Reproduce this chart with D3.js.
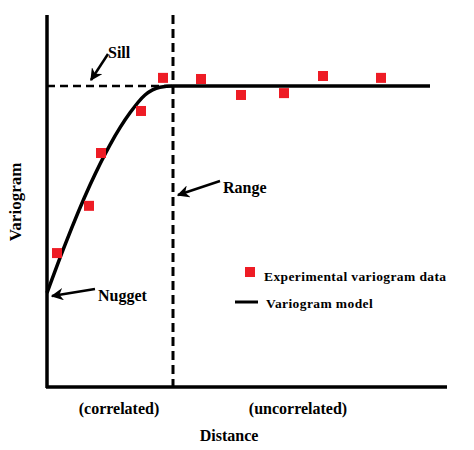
<!DOCTYPE html><html><head><meta charset="utf-8"><script src="https://cdn.jsdelivr.net/npm/d3@7"></script>
<style>body{margin:0;background:#fff}text{font-family:"Liberation Serif","Times New Roman",serif;font-weight:bold}</style></head><body>
<svg id="c" width="474" height="450"></svg>
<script>
const expX=[2.5,10.5,13.5,23.5,29,38.5,48.5,59.25,69,83.5];
const expY=[36,48.7,62.9,74.2,83.1,82.8,78.5,79.0,83.6,83.1];
const modelX=[0,4.5,10.75,15.75,20.75,24.5,28.25,31.5,95.75];
const modelY=[25.3,38.2,54.3,65.1,73.7,78.5,80.6,80.9,80.9];
const sill=80.9, nugget=25.3, range=31.5;
const svg=d3.select("#c");
const x=d3.scaleLinear().domain([0,100]).range([47,447]);
const y=d3.scaleLinear().domain([0,100]).range([387,15]);
const defs=svg.append("defs");
defs.append("marker").attr("id","ah").attr("viewBox","0 0 10 10").attr("refX",9).attr("refY",5)
 .attr("markerWidth",5).attr("markerHeight",5).attr("orient","auto")
 .append("path").attr("d","M0,0L10,5L0,10L3,5Z").attr("fill","#000");
svg.append("line").attr("x1",x(0)).attr("x2",x(0)).attr("y1",y(100)).attr("y2",y(0)+1).attr("stroke","#000").attr("stroke-width",3.5);
svg.append("line").attr("x1",x(0)-1).attr("x2",x(100)).attr("y1",y(0)).attr("y2",y(0)).attr("stroke","#000").attr("stroke-width",3.5);
svg.append("line").attr("x1",x(0)).attr("x2",x(range)).attr("y1",y(sill)).attr("y2",y(sill)).attr("stroke","#000").attr("stroke-width",2.5).attr("stroke-dasharray","8,5");
svg.append("line").attr("x1",x(range)).attr("x2",x(range)).attr("y1",y(100)).attr("y2",y(0)).attr("stroke","#000").attr("stroke-width",3).attr("stroke-dasharray","9,5");
svg.append("path").datum(modelX.map((d,i)=>[d,modelY[i]])).attr("fill","none").attr("stroke","#000").attr("stroke-width",3.5)
 .attr("d",d3.line().x(d=>x(d[0])).y(d=>y(d[1])).curve(d3.curveMonotoneX));
svg.selectAll("rect.p").data(expX.map((d,i)=>[d,expY[i]])).join("rect").attr("class","p")
 .attr("x",d=>x(d[0])-5).attr("y",d=>y(d[1])-5).attr("width",10).attr("height",10).attr("fill","#ee1c25");
function arrow(x1,y1,x2,y2){svg.append("line").attr("x1",x1).attr("y1",y1).attr("x2",x2).attr("y2",y2).attr("stroke","#000").attr("stroke-width",2.5).attr("marker-end","url(#ah)");}
arrow(108,54,91,80); arrow(220,181,178,195); arrow(95,289,52,296);
svg.append("text").attr("x",108).attr("y",58).attr("font-size",16).text("Sill");
svg.append("text").attr("x",223).attr("y",193).attr("font-size",16).text("Range");
svg.append("text").attr("x",98).attr("y",301).attr("font-size",16).text("Nugget");
svg.append("rect").attr("x",245).attr("y",267).attr("width",10).attr("height",10).attr("fill","#ee1c25");
svg.append("text").attr("x",264).attr("y",281).attr("font-size",13.5).attr("letter-spacing",0.4).text("Experimental variogram data");
svg.append("line").attr("x1",235).attr("x2",258).attr("y1",302).attr("y2",302).attr("stroke","#000").attr("stroke-width",3);
svg.append("text").attr("x",266).attr("y",308).attr("font-size",13.5).attr("letter-spacing",0.4).text("Variogram model");
svg.append("text").attr("x",119).attr("y",414).attr("text-anchor","middle").attr("font-size",16).text("(correlated)");
svg.append("text").attr("x",298).attr("y",414).attr("text-anchor","middle").attr("font-size",16).text("(uncorrelated)");
svg.append("text").attr("x",229).attr("y",441).attr("text-anchor","middle").attr("font-size",16).text("Distance");
svg.append("text").attr("transform","translate(21,202) rotate(-90)").attr("text-anchor","middle").attr("font-size",17).text("Variogram");
</script></body></html>
